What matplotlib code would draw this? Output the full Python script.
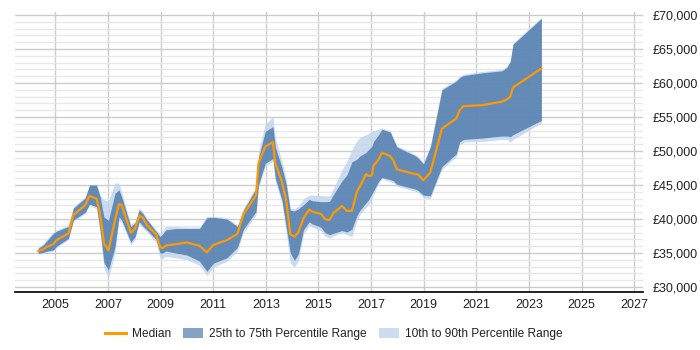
import matplotlib
matplotlib.use("Agg")
import matplotlib.pyplot as plt
from matplotlib.patches import Patch
from matplotlib.lines import Line2D
from matplotlib.ticker import MultipleLocator, FuncFormatter

years = [2004.35, 2004.55, 2004.70, 2004.93, 2005.05, 2005.50, 2005.69, 2006.14, 2006.30, 2006.57,
         2006.70, 2006.85, 2007.02, 2007.27, 2007.42, 2007.52, 2007.87, 2008.03, 2008.19, 2008.32,
         2008.48, 2008.83, 2008.98, 2009.08, 2009.20, 2009.58, 2010.00, 2010.48, 2010.76, 2011.01,
         2011.52, 2011.92, 2012.15, 2012.63, 2012.72, 2012.98, 2013.27, 2013.36, 2013.61, 2013.77,
         2013.93, 2014.09, 2014.24, 2014.43, 2014.65, 2014.75, 2015.09, 2015.25, 2015.42, 2015.57,
         2015.89, 2016.08, 2016.27, 2016.46, 2016.58, 2016.81, 2016.90, 2017.03, 2017.09, 2017.28,
         2017.41, 2017.73, 2017.85, 2017.98, 2018.68, 2018.78, 2018.99, 2019.25, 2019.69, 2020.24,
         2020.36, 2020.51, 2021.21, 2021.97, 2022.16, 2022.29, 2022.39, 2023.47]

median = [35300, 35550, 35950, 36300, 36900, 37900, 40600, 42050, 43400, 43000,
          40800, 36400, 35400, 39850, 42200, 42050, 38000, 38600, 40450, 40250,
          39100, 37750, 35900, 35700, 36100, 36300, 36550, 36050, 35100, 36200,
          36900, 37800, 40700, 43500, 48200, 50650, 51300, 48200, 45500, 42800,
          37750, 37400, 38100, 40100, 41400, 41100, 40750, 40000, 39850, 40900,
          41900, 41200, 41200, 44000, 44850, 46600, 46350, 46400, 47850, 48750,
          49750, 49250, 48600, 47300, 46600, 46550, 45700, 46850, 53300, 54800,
          56000, 56600, 56750, 57250, 57600, 58000, 59350, 62150]

p25 = [34950, 35100, 35300, 35450, 36000, 37150, 39850, 41000, 42200, 41800,
       38400, 33600, 32500, 35900, 40300, 39850, 36600, 37400, 39600, 39000,
       38400, 37000, 35000, 35000, 35300, 35000, 34700, 33800, 32300, 33500,
       34300, 35800, 38500, 41100, 45000, 48200, 48900, 46000, 42800, 38900,
       35000, 33900, 34900, 38400, 39600, 39300, 38800, 38000, 37700, 37900,
       38300, 38100, 38500, 40500, 41300, 42400, 42800, 43700, 44100, 45500,
       46100, 45800, 45600, 45100, 44400, 44200, 43500, 43400, 47700, 49600,
       51300, 51700, 51900, 52200, 52200, 52100, 52400, 54500]

p75 = [35700, 36200, 36900, 37900, 38200, 38900, 41600, 43100, 45000, 45000,
       43300, 40300, 39800, 43800, 44300, 43300, 38900, 39400, 41350, 40850,
       39900, 38200, 37400, 37800, 38400, 38600, 38600, 38600, 40200, 40250,
       40000, 38900, 41300, 44500, 49000, 52900, 53600, 50600, 47600, 45200,
       41300, 41200, 41500, 42100, 42900, 42700, 42550, 42550, 42600, 43600,
       45600, 46500, 48400, 48800, 49300, 49800, 50200, 50700, 51400, 52400,
       53200, 52800, 51700, 50600, 49300, 49000, 48100, 50600, 59000, 60300,
       60800, 61100, 61500, 61800, 62300, 63200, 65700, 69500]

p10 = [34800, 34950, 35150, 35300, 35800, 37000, 39700, 40800, 42000, 41500,
       38000, 32800, 31300, 35000, 39800, 39500, 36200, 37000, 39300, 38700,
       38100, 36500, 34300, 34200, 34500, 34300, 34000, 33200, 31700, 32900,
       33800, 35300, 38000, 40600, 44500, 47800, 48500, 45500, 42300, 38000,
       33500, 32900, 33900, 37800, 39000, 38800, 38300, 37500, 37200, 37500,
       38000, 37700, 37400, 39800, 40700, 41700, 42100, 43000, 43500, 45200,
       45900, 45500, 45300, 44800, 44100, 43900, 43100, 43000, 47300, 49200,
       50900, 51300, 51400, 51700, 51700, 51300, 51700, 54100]

p90 = [35850, 36400, 37100, 38100, 38400, 39100, 41800, 43300, 45000, 45000,
       43600, 42800, 42700, 45300, 45300, 44000, 39200, 39700, 41600, 41100,
       40100, 38400, 37700, 38300, 38900, 38900, 38800, 38800, 40400, 40400,
       40200, 39100, 41600, 44800, 50000, 54000, 55000, 52000, 48500, 46000,
       41600, 41500, 41900, 43000, 43500, 43500, 43500, 43400, 43400, 44500,
       47200, 48500, 50200, 51500, 52000, 52400, 52600, 52900, 53000, 53200,
       53400, 53000, 51900, 50800, 49500, 49200, 48300, 50800, 59200, 60500,
       61000, 61300, 61700, 62000, 62500, 63400, 65900, 69700]

xticks = list(range(2005, 2028, 2))

plt.rcParams['font.family'] = ['Liberation Sans', 'DejaVu Sans']

fig = plt.figure(figsize=(7, 3.5), dpi=100)
ax = fig.add_axes([15 / 700, 1 - 292 / 350, (643 - 15) / 700, (292 - 12) / 350])

ax.fill_between(years, p10, p90, color='#c3d6ec', alpha=0.85, linewidth=0, zorder=2)
ax.fill_between(years, p25, p75, color='#4a77aa', alpha=0.8, linewidth=0, zorder=3)
ax.plot(years, median, color='#ff9900', linewidth=1.6, zorder=4)

ax.set_xlim(2003.47, 2027.33)
ax.set_ylim(29265, 70450)
ax.set_xticks(xticks)
ax.set_xticklabels([str(t) for t in xticks])
ax.yaxis.set_major_locator(MultipleLocator(5000))
ax.yaxis.set_minor_locator(MultipleLocator(1000))
ax.yaxis.set_major_formatter(FuncFormatter(lambda v, p: '£{:,.0f}'.format(v)))
ax.yaxis.tick_right()

ax.set_axisbelow(True)
ax.grid(axis='y', which='major', color='#cccccc', linewidth=1)
ax.grid(axis='y', which='minor', color='#e8e8e8', linewidth=1)
ax.grid(axis='x', which='major', color='#cccccc', linewidth=1)

for s in ['top', 'left', 'right']:
    ax.spines[s].set_visible(False)
ax.spines['bottom'].set_color('#111111')
ax.spines['bottom'].set_linewidth(1.3)

ax.tick_params(axis='both', which='both', length=0, labelsize=9, colors='#222222')
ax.tick_params(axis='x', pad=5)
ax.tick_params(axis='y', pad=7)

handles = [Line2D([0], [0], color='#ff9900', linewidth=2.2),
           Patch(facecolor='#86a2c4', edgecolor='none'),
           Patch(facecolor='#cddcee', edgecolor='none')]
labels = ['Median', '25th to 75th Percentile Range', '10th to 90th Percentile Range']
fig.legend(handles, labels, loc='center', bbox_to_anchor=(334 / 700, 1 - 334 / 350), ncol=3,
           frameon=False, fontsize=8.6, handlelength=1.7, handleheight=1.0, handletextpad=0.5,
           columnspacing=1.0, labelcolor='#222222')

fig.savefig('out.png', dpi=100)
